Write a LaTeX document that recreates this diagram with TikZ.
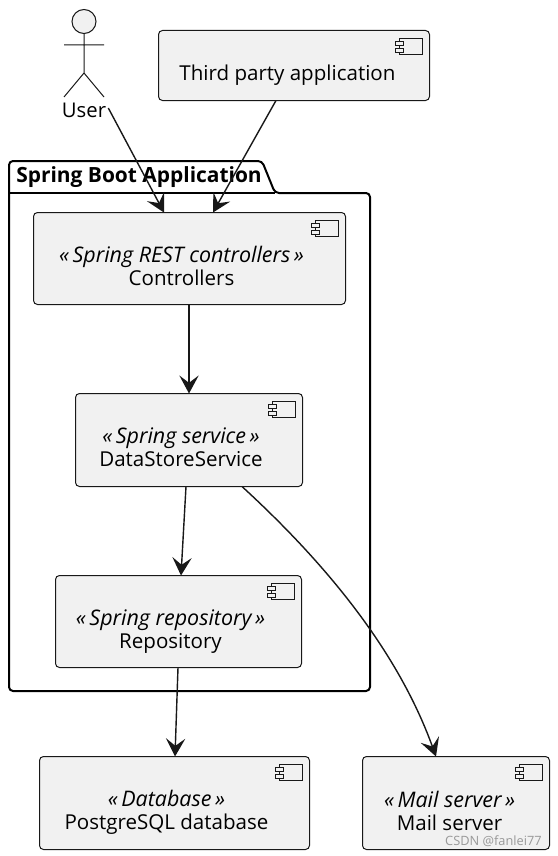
\documentclass[tikz,border=0pt]{standalone}
\usepackage{fontspec}
\setmainfont{Open Sans}
\usetikzlibrary{arrows.meta}
\definecolor{boxfill}{HTML}{F1F1F1}
\definecolor{ink}{HTML}{181818}
\newcommand{\compicon}[1]{%
  \draw[ink,line width=.75pt,fill=boxfill] ([shift={(-30,8)}]#1.north east) rectangle ([shift={(-7,24)}]#1.north east);
  \draw[ink,line width=.75pt,fill=boxfill] ([shift={(-34,11)}]#1.north east) rectangle ([shift={(-26,15)}]#1.north east);
  \draw[ink,line width=.75pt,fill=boxfill] ([shift={(-34,18)}]#1.north east) rectangle ([shift={(-26,22)}]#1.north east);
}
\newcommand{\st}[1]{{\fontsize{16.1}{17.25}\itshape\selectfont «\,#1\,»}}
\tikzset{
  x=.75pt,y=-.75pt,
  compbox/.style={draw=ink,line width=.75pt,fill=boxfill,rounded corners=3pt,anchor=north west,inner sep=0pt,outer sep=0pt},
  boxtext/.style n args={3}{label={[align=center,inner sep=0pt,xshift=#1,yshift=#2,text=black,font=\fontsize{15.4}{17.25}\selectfont]center:{#3}}},
  conn/.style={draw=ink,line width=1.05pt,-{Stealth[length=13.5pt,width=14.5pt,inset=5.5pt]}},
  actorline/.style={draw=ink,line width=.75pt},
}
\begin{document}
\begin{tikzpicture}
\useasboundingbox (0,0) rectangle (557,856);
% package
\draw[black,line width=1.5pt,rounded corners=3pt,fill=white] (9,193) -- (9,161) -- (262,161) -- (275,193) -- (370,193) -- (370,691) -- (9,691) -- cycle;
\draw[black,line width=1.5pt] (9,193) -- (275,193);
\node[anchor=west,inner sep=0pt,font=\fontsize{15.7}{19}\bfseries\selectfont] (pkg) at (16,177) {Spring Boot Application};
% actor
\node[circle,draw=ink,line width=.75pt,fill=boxfill,minimum size=18pt,inner sep=0pt] (head) at (84,21.5) {};
\coordinate (hip) at (84,73);
\coordinate (larm) at (64,45);
\coordinate (rarm) at (104,45);
\coordinate (lfoot) at (64,97);
\coordinate (rfoot) at (104,97);
\draw[actorline] (head.south) -- (hip) (larm) -- (rarm) (lfoot) -- (hip) -- (rfoot);
\node[inner sep=0pt,font=\fontsize{15.2}{18}\selectfont] (user) at (84,110) {User};
% components
\node[compbox,minimum width=203.25pt,minimum height=52.5pt,boxtext={-4.9pt}{-7.1pt}{Third party application}] (third) at (158.5,30.5) {};
\node[compbox,minimum width=234pt,minimum height=69pt,boxtext={-6pt}{-5.6pt}{\st{Spring REST controllers}\\Controllers}] (ctrl) at (33.5,212.5) {};
\node[compbox,minimum width=170.25pt,minimum height=69.75pt,boxtext={-6pt}{-5.6pt}{\st{Spring service}\\DataStoreService}] (ds) at (75.5,393.5) {};
\node[compbox,minimum width=184.5pt,minimum height=69pt,boxtext={-6pt}{-7.4pt}{\st{Spring repository}\\Repository}] (repo) at (55.5,575.5) {};
\node[compbox,minimum width=202.5pt,minimum height=69.75pt,boxtext={-6pt}{-7pt}{\st{Database}\\PostgreSQL database}] (pg) at (39.5,756.5) {};
\node[compbox,minimum width=140.25pt,minimum height=69.75pt,boxtext={-4.8pt}{-5.6pt}{\st{Mail server}\\Mail server}] (mail) at (362.5,756.5) {};
\foreach \n in {third,ctrl,ds,repo,pg,mail}{\compicon{\n}}
% connectors
\draw[conn] ([shift={(2,-2)}]user.east) -- ([xshift=130.5*.75pt]ctrl.north west);
\draw[conn] ([xshift=117.5*.75pt]third.south west) -- ([xshift=179.5*.75pt]ctrl.north west);
\draw[conn] ([xshift=155.5*.75pt]ctrl.south west) -- ([xshift=113.5*.75pt]ds.north west);
\draw[conn] ([xshift=110.5*.75pt]ds.south west) -- ([xshift=105.5*.75pt]ds.south west |- repo.north);
\draw[conn] ([xshift=122.5*.75pt]repo.south west) -- ([xshift=135.5*.75pt]pg.north west);
\draw[conn] ([xshift=166.5*.75pt]ds.south west) .. controls +(85,78) and +(-38,-105) .. ([xshift=73.5*.75pt]mail.north west);
\node[anchor=east,inner sep=0pt,text=black!40,font=\fontsize{9.6}{12}\selectfont] (wm) at (542,841) {CSDN @fanlei77};
\end{tikzpicture}
\end{document}
